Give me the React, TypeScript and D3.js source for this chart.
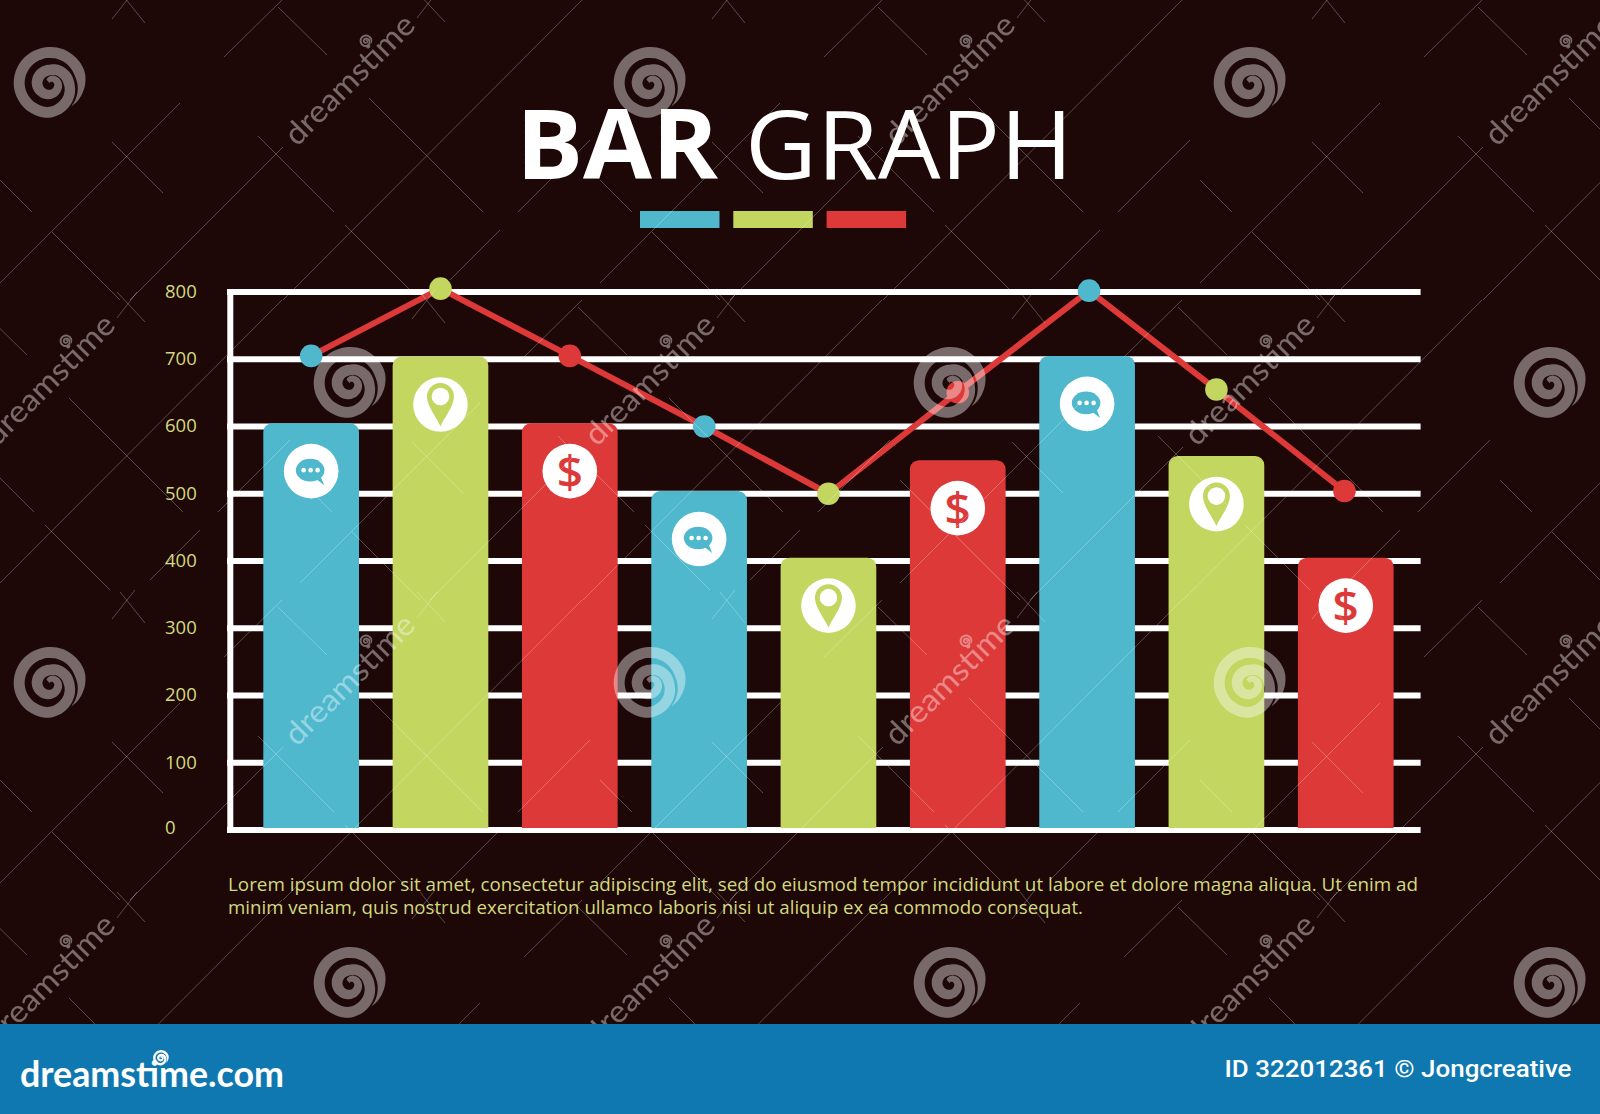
import React, { useEffect, useRef } from 'react'
import * as d3 from 'd3'

// values
const categories = ['A', 'B', 'C', 'D', 'E', 'F', 'G', 'H', 'I']
const barValues = [605, 704, 605, 504, 405, 550, 705, 556, 405]
const barKinds = ['chat', 'pin', 'dollar', 'chat', 'pin', 'dollar', 'chat', 'pin', 'dollar']
const lineValues = [705, 805, 705, 600, 500, 651, 802, 655, 504]
const lineSlots = [0, 1, 2, 3.04, 4, 5, 6.015, 7, 7.99]
const dotKinds = ['chat', 'pin', 'dollar', 'chat', 'pin', 'dollar', 'chat', 'pin', 'dollar']
const yTicks = [0, 100, 200, 300, 400, 500, 600, 700, 800]
const loremLines = [
  'Lorem ipsum dolor sit amet, consectetur adipiscing elit, sed do eiusmod tempor incididunt ut labore et dolore magna aliqua. Ut enim ad',
  'minim veniam, quis nostrud exercitation ullamco laboris nisi ut aliquip ex ea commodo consequat.',
]

const BG = '#1e0707'
const colors: Record<string, string> = { chat: '#4fb8cd', pin: '#c2d660', dollar: '#dd3939' }
const TEXT = '#d2da7e'

// stock watermark: one tile of thin crossing lines, repeated with the spirals
const tileLines = [
  [135, -10, 112, 19], [282, 0, 224, 57], [180, 103, 0, 283], [283, 147, 130, 300],
  [582, 0, 283, 300], [437, -8, 417, 18], [500, 230, 450, 280], [590, 140, 518, 212],
  [120, -8, 145, 23], [278, 7, 327, 55], [112, 142, 163, 193], [0, 180, 32, 212],
  [258, 136, 334, 212], [369, 98, 483, 212], [52, 232, 120, 300], [345, 225, 410, 290],
  [417, -8, 445, 22],
]
// spiral centre radius at each turn, starting from the tail at the lower right
const spiralTurns = [0, 0.63, 0.88, 1.13, 1.38, 1.63, 1.88, 2.13, 2.5]
const spiralRadii = [31.5, 31, 29, 19, 13.5, 13, 11, 8, 2.5]

function spiralPath(radius: number) {
  const radiusAt = d3.scaleLinear().domain(spiralTurns).range(spiralRadii)
  const ts = d3.range(0, 2.5001, 0.025)
  const pt = (t: number, side: number) => {
    const a = (47 * Math.PI) / 180 - t * 2 * Math.PI
    const w = Math.min(1, t / 0.18) * (t < 1.6 ? 11 : 11 - (t - 1.6) * 6)
    const r = radiusAt(t) + (side * w) / 2
    return [(Math.cos(a) * r * radius) / 37, (Math.sin(a) * r * radius) / 37] as [number, number]
  }
  const outer = ts.map((t) => pt(t, 1))
  const inner = ts.map((t) => pt(t, -1)).reverse()
  return d3.line().curve(d3.curveBasis)(outer) + 'L' + d3.line().curve(d3.curveBasis)(inner)!.slice(1) + 'Z'
}

export default function App() {
  const svgRef = useRef<SVGSVGElement>(null)

  useEffect(() => {
    if (!svgRef.current) return
    const svg = d3.select(svgRef.current)
    svg.selectAll('*').remove()

    const x = d3.scaleBand<string>().domain(categories).range([263.3, 1393.6]).paddingInner(0.26)
    const y = d3.scaleLinear().domain([0, 800]).range([830, 292])
    const lineX = d3
      .scaleLinear()
      .domain([0, 8])
      .range([x('A')! + x.bandwidth() / 2, x('I')! + x.bandwidth() / 2])

    svg.append('rect').attr('width', 1600).attr('height', 1114).attr('fill', BG)

    // title
    svg.append('text').attr('x', 516).attr('y', 179).attr('textLength', 202).attr('lengthAdjust', 'spacingAndGlyphs')
      .style('font-family', '"Open Sans"').style('font-size', '96px').style('font-weight', 700)
      .attr('fill', '#fff').text('BAR')
    svg.append('text').attr('x', 745).attr('y', 179).attr('textLength', 328).attr('lengthAdjust', 'spacingAndGlyphs')
      .style('font-family', '"Open Sans"').style('font-size', '96px').style('font-weight', 500)
      .attr('fill', '#fff').text('GRAPH')

    svg.selectAll('.swatch').data(['chat', 'pin', 'dollar']).join('rect')
      .attr('class', 'swatch')
      .attr('x', (_, i) => 640 + i * 93.3).attr('y', 211).attr('width', 79.5).attr('height', 17)
      .attr('fill', (d) => colors[d])

    // grid and axis
    svg.selectAll('.grid').data(yTicks).join('line')
      .attr('class', 'grid')
      .attr('x1', 227).attr('x2', 1420.6)
      .attr('y1', (d) => y(d)).attr('y2', (d) => y(d))
      .attr('stroke', '#fff').attr('stroke-width', 6)
    svg.append('line').attr('x1', 230.3).attr('x2', 230.3).attr('y1', y(800) - 3).attr('y2', y(0) + 3)
      .attr('stroke', '#fff').attr('stroke-width', 6)

    svg.selectAll('.tick-label').data(yTicks).join('text')
      .attr('class', 'tick-label')
      .attr('x', 165).attr('y', (d) => y(d) - (d === 0 ? 2.5 : 0.8)).attr('dy', '0.36em')
      .style('font-family', '"Open Sans"').style('font-size', '18.5px')
      .attr('fill', TEXT).text((d) => d)

    // bars, square at the bottom
    const barPath = (v: number, left: number) => {
      const w = x.bandwidth()
      const r = 9
      const top = y(v)
      const bottom = y(0) - 2
      const p = d3.path()
      p.moveTo(left, bottom)
      p.lineTo(left, top + r)
      p.arcTo(left, top, left + r, top, r)
      p.lineTo(left + w - r, top)
      p.arcTo(left + w, top, left + w, top + r, r)
      p.lineTo(left + w, bottom)
      p.closePath()
      return p.toString()
    }
    const rows = categories.map((c, i) => ({ c, v: barValues[i], kind: barKinds[i] }))
    svg.selectAll('.bar').data(rows).join('path')
      .attr('class', 'bar')
      .attr('d', (d) => barPath(d.v, x(d.c)!))
      .attr('fill', (d) => colors[d.kind])

    // badges
    const badge = svg.selectAll('.badge').data(rows).join('g')
      .attr('class', 'badge')
      .attr('transform', (d) => `translate(${x(d.c)! + x.bandwidth() / 2},${y(d.v) + 48})`)
    badge.append('circle').attr('r', 27.3).attr('fill', '#fff')

    const chat = badge.filter((d) => d.kind === 'chat')
    chat.append('ellipse').attr('cx', -1).attr('cy', -1).attr('rx', 14.3).attr('ry', 11.3).attr('fill', (d) => colors[d.kind])
    chat.append('path').attr('d', 'M4,7 L13,14 L9,4 Z').attr('fill', (d) => colors[d.kind])
    chat.selectAll('.bubble-dot').data([-7.5, -0.5, 6.5]).join('circle')
      .attr('class', 'bubble-dot').attr('cx', (d) => d).attr('cy', -1).attr('r', 2.3).attr('fill', '#fff')

    const pin = badge.filter((d) => d.kind === 'pin')
    pin.append('path')
      .attr('d', 'M0,22 C-3,14 -13.5,2 -13.5,-8 A13.5,13.5 0 1 1 13.5,-8 C13.5,2 3,14 0,22 Z')
      .attr('fill', (d) => colors[d.kind])
    pin.append('circle').attr('cy', -8).attr('r', 8.8).attr('fill', '#fff')

    const dollar = badge.filter((d) => d.kind === 'dollar')
    dollar.append('text').attr('text-anchor', 'middle').attr('y', 16.5)
      .style('font-family', '"Open Sans"').style('font-size', '46px').style('font-weight', 600)
      .attr('fill', (d) => colors[d.kind]).text('$')

    // red line with dots
    const line = d3.line<number>()
      .x((_, i) => lineX(lineSlots[i]))
      .y((d) => y(d))
    svg.append('path').datum(lineValues).attr('d', line).attr('fill', 'none')
      .attr('stroke', colors.dollar).attr('stroke-width', 6).attr('stroke-linejoin', 'round')
    svg.selectAll('.dot').data(lineValues).join('circle')
      .attr('class', 'dot')
      .attr('cx', (_, i) => lineX(lineSlots[i])).attr('cy', (d) => y(d)).attr('r', 11.3)
      .attr('fill', (_, i) => colors[dotKinds[i]])

    // caption
    svg.selectAll('.lorem').data(loremLines).join('text')
      .attr('class', 'lorem')
      .attr('x', 228).attr('y', (_, i) => 890.7 + i * 23)
      .attr('textLength', (_, i) => (i === 0 ? 1190 : 855)).attr('lengthAdjust', 'spacingAndGlyphs')
      .style('font-family', '"Open Sans"').style('font-size', '18px')
      .attr('fill', TEXT).text((d) => d)

    // watermark over everything
    const mark = svg.append('g').attr('fill', '#fff').attr('opacity', 0.4)
    const lines = d3.path()
    for (let row = 0; row < 4; row++) {
      for (let col = -1; col < 3; col++) {
        const ox = col * 600 + (row % 2) * 300
        const oy = row * 300
        tileLines.forEach(([a, b, c, e]) => {
          lines.moveTo(a + ox, b + oy)
          lines.lineTo(c + ox, e + oy)
        })
        mark.append('path').attr('d', spiralPath(37)).attr('transform', `translate(${ox + 50},${oy + 83.5})`)
        const word = mark.append('g').attr('transform', `translate(${ox + 350},${oy + 80}) rotate(-45)`)
        word.append('text').attr('x', -85).attr('y', 10).attr('textLength', 170).attr('lengthAdjust', 'spacingAndGlyphs')
          .style('font-family', 'Lato').style('font-size', '31px').style('font-weight', 400).text('dreamstime')
        mark.append('path').attr('d', spiralPath(6.5)).attr('transform', `translate(${ox + 366},${oy + 41})`)
      }
    }
    svg.append('path').attr('d', lines.toString()).attr('fill', 'none')
      .attr('stroke', '#fff').attr('stroke-width', 1).attr('opacity', 0.27)

    // footer strip
    svg.append('rect').attr('y', 1024).attr('width', 1600).attr('height', 90).attr('fill', '#0f78b0')
    svg.append('text').attr('x', 20).attr('y', 1087).attr('textLength', 264).attr('lengthAdjust', 'spacingAndGlyphs')
      .style('font-family', 'Lato').style('font-size', '36px').style('font-weight', 700)
      .attr('fill', '#fff').text('dreamstime.com')
    svg.append('path').attr('d', spiralPath(8)).attr('transform', 'translate(161,1058)').attr('fill', '#fff')
    svg.append('text').attr('x', 1224.5).attr('y', 1077).attr('textLength', 347).attr('lengthAdjust', 'spacingAndGlyphs')
      .style('font-family', 'Roboto').style('font-size', '24px').style('font-weight', 500)
      .attr('fill', '#fff').text('ID 322012361 © Jongcreative')
  }, [])

  return (
    <svg
      ref={svgRef}
      width="1600"
      height="1114"
      style={{ position: 'absolute', left: 0, top: 0, display: 'block' }}
    />
  )
}
